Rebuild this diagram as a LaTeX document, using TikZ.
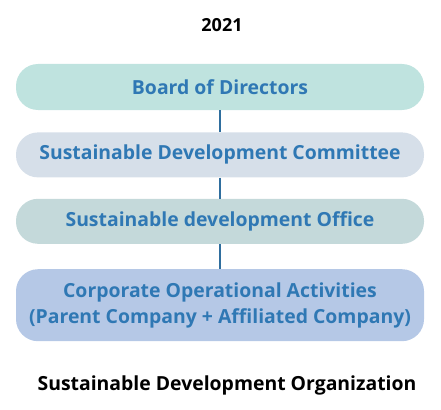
\documentclass[tikz,border=0pt]{standalone}
\usepackage{fontspec}
\setmainfont{Open Sans}
\usepackage{xcolor}
\usetikzlibrary{positioning}
\definecolor{boardfill}{HTML}{BFE3DF}
\definecolor{commfill}{HTML}{D6DFE9}
\definecolor{officefill}{HTML}{C4D9DA}
\definecolor{opsfill}{HTML}{B5C8E6}
\definecolor{txtblue}{HTML}{2F78B4}
\definecolor{linkblue}{HTML}{2F6E9E}
\tikzset{%
  lvl/.style = {rectangle,rounded corners=22pt,minimum width=408pt,
        minimum height=46pt,align=center,text=txtblue,font=\bfseries\fontsize{19.4}{26}\selectfont},
  link/.style = {draw=linkblue,line width=1.6pt}
}
\begin{document}
\begin{tikzpicture}[x=1pt,y=-1pt,node distance=22pt]
  \useasboundingbox (0,0) rectangle (441,409);
  \node[font=\bfseries\fontsize{18}{22}\selectfont] (year) at (222,25) {2021};
  \node[lvl,fill=boardfill] (board) at (220,87) {Board of Directors};
  \node[lvl,fill=commfill,minimum height=45pt] (comm) [below=of board] {Sustainable Development Committee};
  \node[lvl,fill=officefill,minimum height=45pt] (office) [below=21pt of comm] {Sustainable development Office};
  \node[lvl,fill=opsfill,minimum height=72pt] (ops) [below=25pt of office] {Corporate Operational Activities\\(Parent Company + Affiliated Company)};
  \node[font=\bfseries\fontsize{19.4}{22}\selectfont] (caption) at (227,385) {Sustainable Development Organization};

  \draw[link] (board) -- (comm);
  \draw[link] (comm) -- (office);
  \draw[link] (office) -- (ops);
\end{tikzpicture}
\end{document}
